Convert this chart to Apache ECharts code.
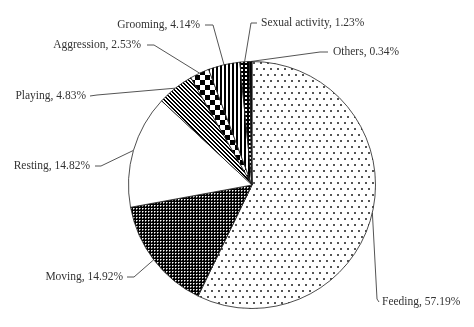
<!DOCTYPE html>
<html><head><meta charset="utf-8">
<script src="https://cdn.jsdelivr.net/npm/echarts@6/dist/echarts.min.js"></script>
<style>html,body{margin:0;padding:0;background:#fff}#c{width:474px;height:327px}</style>
</head><body><div id="c"></div>
<script>
const categories = ['Feeding','Moving','Resting','Playing','Aggression','Grooming','Sexual activity','Others'];
const values = [57.19,14.92,14.82,4.83,2.53,4.14,1.23,0.34];

// layout / style (not data)
const CX = 252, CY = 185, R = 123.5;
const labelPos = [
  {x:382,y:302,align:'left', elbow:[377,299], end:[379,302]},
  {x:123,y:277,align:'right',elbow:[134,277], end:[127,277]},
  {x:90, y:166,align:'right',elbow:[101,166], end:[95,166]},
  {x:86, y:96, align:'right',elbow:[97,95],   end:[90,96]},
  {x:141,y:45, align:'right',elbow:[154,45],  end:[147,45]},
  {x:200,y:25, align:'right',elbow:[213,25],  end:[205,25]},
  {x:261,y:23, align:'left', elbow:[251,23],  end:[257,23]},
  {x:333,y:52, align:'left', elbow:[320,52],  end:[328,52]}
];

function tile(w,h,draw){
  const c=document.createElement('canvas');c.width=w;c.height=h;
  const g=c.getContext('2d');g.fillStyle='#fff';g.fillRect(0,0,w,h);draw(g,w,h);return c;
}
const patDots = tile(7,12,g=>{g.fillStyle='#555';g.fillRect(1,2,2,2);g.fillRect(4,8,2,2);});
const patDense = tile(3,3,g=>{g.fillStyle='#000';g.fillRect(0,0,3,3);g.fillStyle='#fff';g.fillRect(1,1,1,1);g.fillStyle='#888';g.fillRect(2,1,1,1);g.fillRect(1,2,1,1);});
const patDiag = tile(4,4,(g,w,h)=>{g.fillStyle='#000';for(let y=0;y<h;y++)for(let x=0;x<w;x++){const d=((x-y)%4+4)%4;if(d<2)g.fillRect(x,y,1,1);}});
const patCheck = tile(10,10,g=>{g.fillStyle='#000';g.fillRect(0,0,5,5);g.fillRect(5,5,5,5);});
const patVert = tile(4,4,g=>{g.fillStyle='#000';g.fillRect(0,0,2,4);});
const patGrid = tile(4,4,g=>{g.fillStyle='#000';g.fillRect(0,0,4,4);g.fillStyle='#fff';g.fillRect(1,1,2,2);});
const fills = [
  {image:patDots,repeat:'repeat'},
  {image:patDense,repeat:'repeat'},
  '#ffffff',
  {image:patDiag,repeat:'repeat'},
  {image:patCheck,repeat:'repeat'},
  {image:patVert,repeat:'repeat'},
  {image:patGrid,repeat:'repeat'},
  '#000000'
];

const total = values.reduce((a,b)=>a+b,0);
function edgePoint(i){
  let before=0; for(let k=0;k<i;k++) before+=values[k];
  const mid=(before+values[i]/2)/total*2*Math.PI; // clockwise from top
  return [CX+R*Math.sin(mid), CY-R*Math.cos(mid)];
}

const chart = echarts.init(document.getElementById('c'),null,{renderer:'canvas'});
chart.setOption({
  animation:false,
  backgroundColor:'#fff',
  series:[{
    type:'pie',
    center:[CX,CY],
    radius:R,
    startAngle:90,
    clockwise:true,
    avoidLabelOverlap:false,
    data:categories.map((n,i)=>({name:n,value:values[i],itemStyle:{color:fills[i]}})),
    itemStyle:{borderColor:'#222',borderWidth:0.8},
    label:{show:true,formatter:'{b}, {c}%',fontFamily:'Liberation Serif',fontSize:11.5,color:'#333'},
    labelLine:{show:true,lineStyle:{color:'#555',width:1}},
    emphasis:{disabled:true},
    labelLayout:function(p){
      const L=labelPos[p.dataIndex];
      return {x:L.x,y:L.y,align:L.align,verticalAlign:'middle',
        labelLinePoints:[edgePoint(p.dataIndex),L.elbow,L.end]};
    }
  }]
});
</script></body></html>
